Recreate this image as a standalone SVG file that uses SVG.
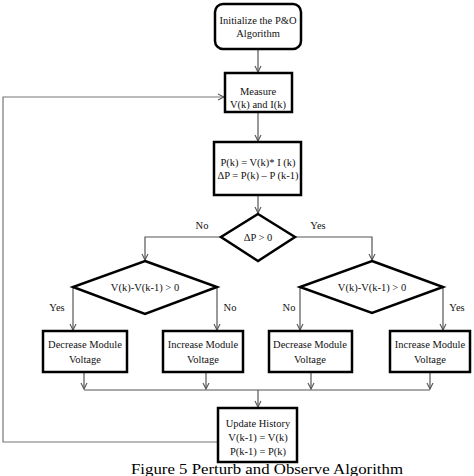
<svg xmlns="http://www.w3.org/2000/svg" width="474" height="476" viewBox="0 0 474 476">
<defs>
<style>
.box{fill:#fff;stroke:#000;stroke-width:2.5}
.ln{fill:none;stroke:#555;stroke-width:1.2}
.t{font-family:"Liberation Serif","Times New Roman",serif;font-size:10.5px;fill:#111;text-anchor:middle}
.cap{font-family:"Liberation Serif","Times New Roman",serif;font-size:14.5px;fill:#000;text-anchor:middle}
</style>
<marker id="a" markerWidth="8" markerHeight="8" refX="7" refY="4" orient="auto" markerUnits="userSpaceOnUse">
<path d="M1,1 L7,4 L1,7" fill="none" stroke="#555" stroke-width="1.1"/>
</marker>
</defs>
<rect width="474" height="476" fill="#fff"/>
<g id="connectors">
<line class="ln" x1="258" y1="49" x2="258" y2="72" marker-end="url(#a)"/>
<line class="ln" x1="258" y1="112" x2="258" y2="141" marker-end="url(#a)"/>
<line class="ln" x1="258" y1="195" x2="258" y2="213" marker-end="url(#a)"/>
<polyline class="ln" points="221,237 145,237 145,260" marker-end="url(#a)"/>
<polyline class="ln" points="295,237 372,237 372,260" marker-end="url(#a)"/>
<line class="ln" x1="73" y1="287" x2="73" y2="330" marker-end="url(#a)"/>
<line class="ln" x1="217" y1="287" x2="217" y2="330" marker-end="url(#a)"/>
<line class="ln" x1="300" y1="287" x2="300" y2="330" marker-end="url(#a)"/>
<line class="ln" x1="443" y1="287" x2="443" y2="330" marker-end="url(#a)"/>
<line class="ln" x1="84" y1="372" x2="84" y2="389" marker-end="url(#a)"/>
<line class="ln" x1="206" y1="372" x2="206" y2="389" marker-end="url(#a)"/>
<line class="ln" x1="311" y1="372" x2="311" y2="389" marker-end="url(#a)"/>
<line class="ln" x1="430" y1="372" x2="430" y2="389" marker-end="url(#a)"/>
<line class="ln" x1="84" y1="390" x2="430" y2="390"/>
<line class="ln" x1="258" y1="390" x2="258" y2="407" marker-end="url(#a)"/>
<polyline class="ln" points="218,442 3,442 3,97 224,97" marker-end="url(#a)" style="stroke:#777"/>
<text class="t" x="202" y="229">No</text>
<text class="t" x="318" y="229">Yes</text>
<text class="t" x="57" y="311">Yes</text>
<text class="t" x="230" y="311">No</text>
<text class="t" x="289" y="311">No</text>
<text class="t" x="457" y="311">Yes</text>
</g>
<g id="start">
<rect class="box" x="215" y="4" width="86" height="45" rx="8"/>
<text class="t" x="258" y="24">Initialize the P&amp;O</text>
<text class="t" x="258" y="37">Algorithm</text>
</g>
<g id="measure">
<rect class="box" x="225" y="73" width="67" height="39"/>
<text class="t" x="258" y="95">Measure</text>
<text class="t" x="258" y="108">V(k) and  I(k)</text>
</g>
<g id="power">
<rect class="box" x="214" y="142" width="87" height="53"/>
<text class="t" x="258" y="166">P(k)  = V(k)* I (k)</text>
<text class="t" x="258" y="179">ΔP = P(k) – P (k-1)</text>
</g>
<g id="dp">
<polygon class="box" points="258,214 295,237 258,261 221,237"/>
<text class="t" x="258" y="241">ΔP &gt; 0</text>
</g>
<g id="dvleft">
<polygon class="box" points="145,261 217,287 145,314 73,287"/>
<text class="t" x="145" y="291">V(k)-V(k-1) &gt; 0</text>
</g>
<g id="dvright">
<polygon class="box" points="372,261 443,287 372,313 300,287"/>
<text class="t" x="372" y="291">V(k)-V(k-1) &gt; 0</text>
</g>
<g id="dec1">
<rect class="box" x="43" y="331" width="84" height="41"/>
<text class="t" x="85" y="348">Decrease Module</text>
<text class="t" x="85" y="363">Voltage</text>
</g>
<g id="inc1">
<rect class="box" x="163" y="331" width="80" height="41"/>
<text class="t" x="203" y="348">Increase Module</text>
<text class="t" x="203" y="363">Voltage</text>
</g>
<g id="dec2">
<rect class="box" x="269" y="331" width="83" height="41"/>
<text class="t" x="310" y="348">Decrease Module</text>
<text class="t" x="310" y="363">Voltage</text>
</g>
<g id="inc2">
<rect class="box" x="390" y="331" width="80" height="41"/>
<text class="t" x="430" y="348">Increase Module</text>
<text class="t" x="430" y="363">Voltage</text>
</g>
<g id="update">
<rect class="box" x="218" y="408" width="79" height="54"/>
<text class="t" x="258" y="427">Update History</text>
<text class="t" x="258" y="441">V(k-1) = V(k)</text>
<text class="t" x="258" y="455">P(k-1) = P(k)</text>
</g>
<text class="cap" x="267" y="474" textLength="272" lengthAdjust="spacingAndGlyphs">Figure 5 Perturb and Observe Algorithm</text>
</svg>
